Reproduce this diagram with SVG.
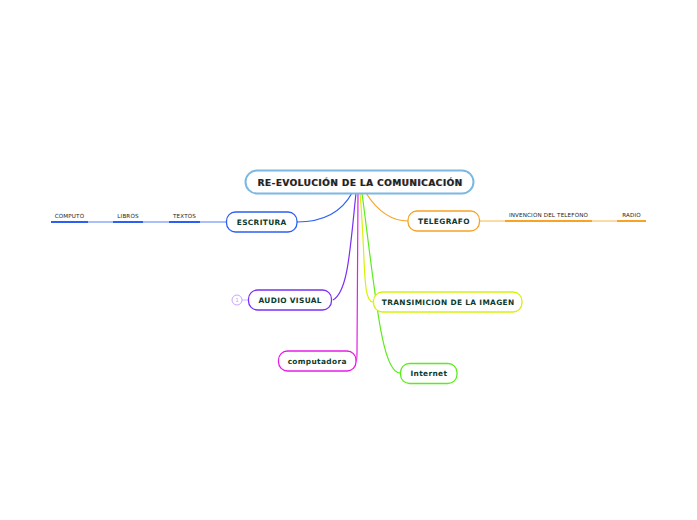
<svg xmlns="http://www.w3.org/2000/svg" width="697" height="520" viewBox="0 0 697 520">
<style>
.n{fill:#fff;stroke-width:1.3}
.t{font-family:"DejaVu Sans",Verdana,sans-serif;font-weight:bold;fill:#0d3b2e;text-anchor:middle;letter-spacing:0.35px}
.s{font-family:"DejaVu Sans",Verdana,sans-serif;font-size:5.6px;fill:#222;text-anchor:middle;letter-spacing:0.15px}
.c{fill:none;stroke-width:1.2}
.u{stroke-width:2;fill:none}
.l{stroke-width:0.8;fill:none}
</style>
<rect width="697" height="520" fill="#fff"/>
<g id="connectors">
<path class="c" stroke="#2b5ff5" d="M352 193 C340 215 320 222 297 222"/>
<path class="c" stroke="#f7a325" d="M366 193 C380 215 395 221 408 221"/>
<path class="c" stroke="#7a2ff5" d="M356 193 C350 250 348 292 333 300"/>
<path class="c" stroke="#e61ce6" d="M358 193 L357 352 Q357 361 356 361"/>
<path class="c" stroke="#d6f20a" d="M360 193 C366 260 362 302 373 302"/>
<path class="c" stroke="#5cec1e" d="M362 193 C376 300 382 373 400 373"/>
<path class="l" stroke="#2b5ff5" d="M226 222 H200 M169 222 H143 M113 222 H88"/>
<path class="l" stroke="#f7a325" d="M480 221 H505 M592 221 H617"/>
<path class="l" stroke="#c4a6ff" d="M242 300 H248"/>
</g>
<g id="central">
<rect x="245.5" y="170.5" width="228" height="23" rx="11.5" fill="#fff" stroke="#7cb8e2" stroke-width="2"/>
<text x="360" y="185.5" class="t" style="font-size:9px;fill:#999;letter-spacing:0.45px" dx="0.6" dy="0.6">RE-EVOLUCIÓN DE LA COMUNICACIÓN</text>
<text x="360" y="185.5" class="t" style="font-size:9px;fill:#222;letter-spacing:0.45px">RE-EVOLUCIÓN DE LA COMUNICACIÓN</text>
</g>
<g id="escritura">
<rect class="n" x="226.5" y="212" width="70.5" height="20" rx="9" stroke="#2b5ff5"/>
<text x="261.7" y="224.7" class="t" style="font-size:7.4px">ESCRITURA</text>
</g>
<g id="textos">
<path class="u" stroke="#2b5ff5" d="M169 222 H200"/>
<text x="184.5" y="217.5" class="s">TEXTOS</text>
</g>
<g id="libros">
<path class="u" stroke="#2b5ff5" d="M113 222 H143"/>
<text x="128" y="217.5" class="s">LIBROS</text>
</g>
<g id="computo">
<path class="u" stroke="#2b5ff5" d="M51 222 H88"/>
<text x="69.5" y="217.5" class="s">COMPUTO</text>
</g>
<g id="telegrafo">
<rect class="n" x="408" y="211" width="71.5" height="20" rx="9" stroke="#f7a325"/>
<text x="443.9" y="223.7" class="t" style="font-size:7.4px">TELEGRAFO</text>
</g>
<g id="invencion">
<path class="u" stroke="#f7a325" d="M505 221 H592"/>
<text x="548.5" y="216.5" class="s">INVENCION DEL TELEFONO</text>
</g>
<g id="radio">
<path class="u" stroke="#f7a325" d="M617 221 H646"/>
<text x="631.5" y="216.5" class="s">RADIO</text>
</g>
<g id="audiovisual">
<rect class="n" x="248.5" y="290" width="83" height="20" rx="9" stroke="#7a2ff5"/>
<text x="290.2" y="302.7" class="t" style="font-size:7.4px">AUDIO VISUAL</text>
<circle cx="237" cy="300" r="5" fill="#fff" stroke="#c4a6ff" stroke-width="1"/>
<text x="237" y="302" style="font-family:'DejaVu Sans',sans-serif;font-size:5px;fill:#b79cf5;text-anchor:middle">1</text>
</g>
<g id="transimicion">
<rect class="n" x="373.5" y="292" width="148.5" height="20" rx="9" stroke="#d6f20a"/>
<text x="448.2" y="304.7" class="t" style="font-size:7.4px">TRANSIMICION DE LA IMAGEN</text>
</g>
<g id="computadora">
<rect class="n" x="278.5" y="351" width="77.5" height="20" rx="9" stroke="#e61ce6"/>
<text x="317.2" y="363.7" class="t" style="font-size:7.4px">computadora</text>
</g>
<g id="internet">
<rect class="n" x="400.5" y="363.5" width="56.5" height="20" rx="9" stroke="#5cec1e"/>
<text x="428.9" y="376.2" class="t" style="font-size:7.4px">Internet</text>
</g>
</svg>
